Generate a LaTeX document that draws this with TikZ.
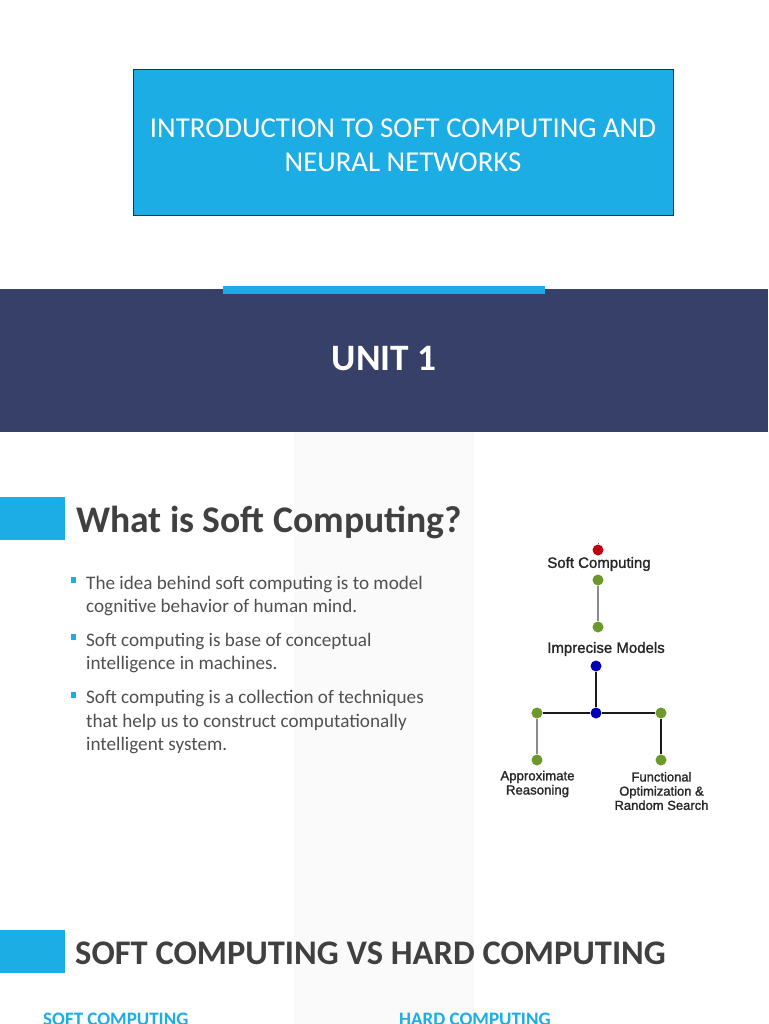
\documentclass[tikz,border=0pt]{standalone}
\usepackage{fontspec}
\setmainfont{Carlito}
\newfontfamily\diagfont[FakeBold=1.4]{Liberation Sans}
\definecolor{skyb}{HTML}{1CADE4}
\definecolor{navyb}{HTML}{364068}
\definecolor{darktxt}{HTML}{404040}
\definecolor{bodytxt}{HTML}{505050}
\definecolor{colb}{HTML}{FAFAFA}
\definecolor{dotgreen}{HTML}{6B9A2A}
\definecolor{dotblue}{HTML}{0000B4}
\definecolor{dotred}{HTML}{C00010}
\tikzset{
  headtxt/.style={anchor=base west,text=darktxt,inner sep=0pt,font=\fontsize{#1}{#1}\selectfont\bfseries},
  bodyline/.style={anchor=base west,text=bodytxt,inner sep=0pt,font=\fontsize{19.15}{20}\selectfont},
  bulletmark/.style={fill=skyb,draw=none,minimum size=5.5pt,inner sep=0pt},
  dot/.style={circle,fill=#1,draw=none,minimum size=11pt,inner sep=0pt},
  dlabel/.style={align=center,inner sep=0pt,text=black!85},
  link/.style={line width=1.1pt,draw=#1},
  sub/.style={anchor=base west,text=skyb,inner sep=0pt,font=\fontsize{19}{20}\selectfont\bfseries}
}
\begin{document}
\begin{tikzpicture}[x=1pt,y=-1pt]
\useasboundingbox (0,0) rectangle (768,1024);
\clip (0,0) rectangle (768,1024);
\fill[white] (0,0) rectangle (768,1024);
% column and bands
\fill[colb] (294,432) rectangle (474,1024);
\fill[navyb] (0,289) rectangle (768,432);
\fill[skyb] (223,286) rectangle (545,293.5);
% title box
\node[draw=navyb!70!black,line width=0.8pt,fill=skyb,minimum width=540pt,minimum height=146pt,inner sep=0pt] (title) at (403,142.5) {};
\node[text=white,inner sep=0pt,align=center,font=\fontsize{28.8}{34.5}\selectfont] (titletext) at (403,145.5)
  {INTRODUCTION TO SOFT COMPUTING AND\\NEURAL NETWORKS};
\node[text=white,inner sep=0pt,font=\fontsize{37.3}{38}\selectfont\bfseries] (unit) at (384,359) {UNIT 1};
% section 1
\fill[skyb] (0,497) rectangle (65,540);
\node[headtxt=37.6] (h1) at (76,532) {What is Soft Computing?};
\node[bulletmark] (b1) at (73.5,580) {};
\node[bodyline] (l1) at (86,589) {The idea behind soft computing is to model};
\node[bodyline] (l2) at (86,612) {cognitive behavior of human mind.};
\node[bulletmark] (b2) at (73.5,637) {};
\node[bodyline] (l3) at (86,646) {Soft computing is base of conceptual};
\node[bodyline] (l4) at (86,669) {intelligence in machines.};
\node[bulletmark] (b3) at (73.5,695) {};
\node[bodyline] (l5) at (86,703.5) {Soft computing is a collection of techniques};
\node[bodyline] (l6) at (86,727) {that help us to construct computationally};
\node[bodyline] (l7) at (86,750) {intelligent system.};
% diagram
\coordinate (tick) at (598,543);
\node[dot=dotred] (red) at (598,550) {};
\node[dot=dotgreen] (g1) at (598,580) {};
\node[dot=dotgreen] (g2) at (598,627) {};
\node[dot=dotblue] (bl1) at (596,666) {};
\node[dot=dotblue] (bl2) at (596,713) {};
\node[dot=dotgreen] (gl) at (537,713) {};
\node[dot=dotgreen] (gr) at (661,713) {};
\node[dot=dotgreen] (gld) at (537,760) {};
\node[dot=dotgreen] (grd) at (661,760) {};
\draw[line width=0.6pt,black!60] (tick) -- (red);
\draw[link=black!45] (g1) -- (g2);
\draw[link=black!90] (bl1) -- (bl2);
\draw[link=black!90] (gl) -- (bl2);
\draw[link=black!90] (bl2) -- (gr);
\draw[link=black!45] (gl) -- (gld);
\draw[link=black!90] (gr) -- (grd);
\node[dlabel,font=\fontsize{15}{15}\diagfont] (sc) at (599,564) {Soft Computing};
\node[dlabel,font=\fontsize{15}{15}\diagfont] (im) at (606,649) {Imprecise Models};
\node[dlabel,font=\fontsize{13.2}{14.2}\diagfont] (ar) at (537.5,784) {Approximate\\Reasoning};
\node[dlabel,font=\fontsize{13}{14.2}\diagfont] (fo) at (661.5,791) {Functional\\Optimization \&\\Random Search};
% section 2
\fill[skyb] (0,930) rectangle (65,973);
\node[headtxt=34.5] (h2) at (75,964) {SOFT COMPUTING VS HARD COMPUTING};
\node[sub] (s1) at (43,1025) {SOFT COMPUTING};
\node[sub] (s2) at (399,1025) {HARD COMPUTING};
\end{tikzpicture}
\end{document}
